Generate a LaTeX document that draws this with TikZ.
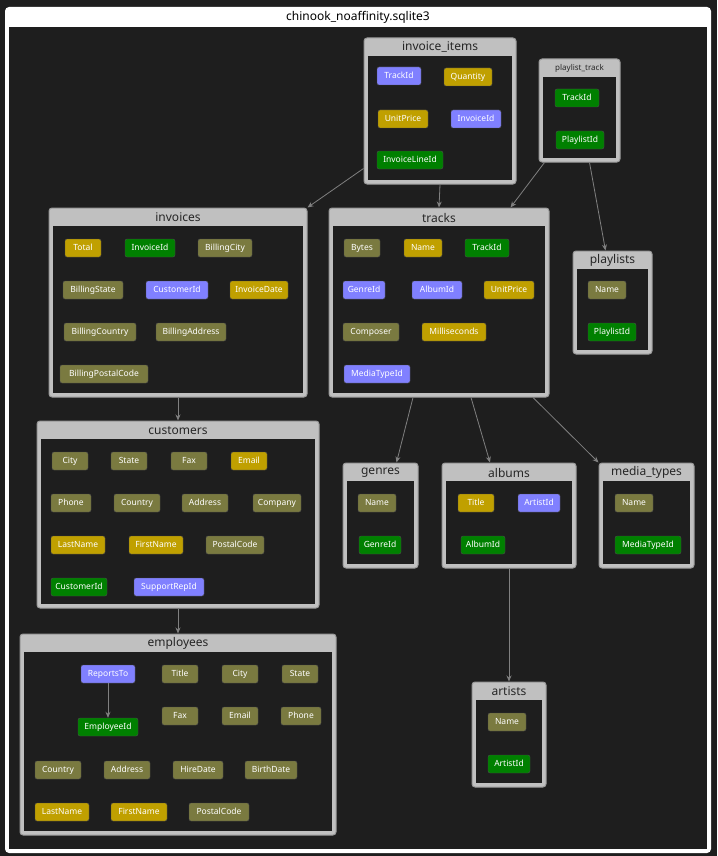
\documentclass[tikz,border=0pt]{standalone}
\usepackage{fontspec}
\setmainfont{Noto Sans}
\usetikzlibrary{arrows.meta}
\definecolor{bgd}{HTML}{1E1E1E}
\definecolor{fgreen}{HTML}{008000}
\definecolor{folive}{HTML}{7A7A40}
\definecolor{fgold}{HTML}{C0A000}
\definecolor{fblue}{HTML}{8080FF}
\definecolor{tgray}{HTML}{C0C0C0}
\tikzset{
  fld/.style={draw=black!40!gray, rounded corners=2pt, minimum height=18pt, inner sep=0pt, text=white, text height=6.5pt, text depth=1.5pt, font=\fontsize{8.5}{9}\selectfont},
  tblbox/.style={draw=gray!80, fill=tgray, rounded corners=3pt, line width=1pt, inner sep=0pt},
  conn/.style={draw=gray, line width=0.8pt, -{Stealth[length=6pt,width=5pt]}},
}
\newcommand{\fl}[6]{\node[fld, fill=#5, minimum width=#4pt] (#1) at (#2,#3) {#6};}
\newcommand{\tbl}[7]{%
  \node[tblbox, minimum width={#4-#2}, minimum height={#5-#3}] (#1) at ({(#2+#4)/2},{(#3+#5)/2}) {};
  \fill[bgd] ({#2+4},{#3+18}) rectangle ({#4-4},{#5-4});
  \node[font=\fontsize{#7}{#7}\selectfont, text=black!85] at ({(#2+#4)/2},{#3+9.5}) {#6};}
\begin{document}
\begin{tikzpicture}[x=1pt,y=-1pt]
\fill[bgd] (0,0) rectangle (717,856);
\fill[white, rounded corners=4pt] (5,7) rectangle (711,853);
\fill[bgd] (9,27) rectangle (707,849);
\node[font=\fontsize{12}{12}\selectfont, text=black] (title) at (358,17) {chinook\_noaffinity.sqlite3};
% tables
\tbl{items}{364}{38}{516}{184}{invoice\_items}{12}
\tbl{ptrack}{539}{59}{620}{162}{playlist\_track}{8}
\tbl{invoices}{49}{208}{307}{397}{invoices}{12}
\tbl{tracks}{329}{208}{549}{397}{tracks}{12}
\tbl{playlists}{573}{251}{652}{354}{playlists}{12}
\tbl{customers}{37}{421}{319}{608}{customers}{12}
\tbl{genres}{343}{463}{418}{568}{genres}{12}
\tbl{albums}{442}{463}{576}{568}{albums}{12}
\tbl{media}{599}{463}{694}{568}{media\_types}{12}
\tbl{employees}{20}{634}{336}{835}{employees}{12}
\tbl{artists}{472}{682}{546}{787}{artists}{12}
% fields
\fl{ii1}{399}{76}{44}{fblue}{TrackId}
\fl{ii2}{468}{77}{48}{fgold}{Quantity}
\fl{ii3}{403}{119}{50}{fgold}{UnitPrice}
\fl{ii4}{476}{119}{50}{fblue}{InvoiceId}
\fl{ii5}{410}{160}{66}{fgreen}{InvoiceLineId}
\fl{pt1}{577}{98}{44}{fgreen}{TrackId}
\fl{pt2}{580}{140}{48}{fgreen}{PlaylistId}
\fl{iv1}{83}{248}{36}{fgold}{Total}
\fl{iv2}{150}{248}{50}{fgreen}{InvoiceId}
\fl{iv3}{225}{248}{54}{folive}{BillingCity}
\fl{iv4}{93}{290}{60}{folive}{BillingState}
\fl{iv5}{177}{290}{62}{fblue}{CustomerId}
\fl{iv6}{259}{290}{58}{fgold}{InvoiceDate}
\fl{iv7}{100}{332}{72}{folive}{BillingCountry}
\fl{iv8}{191}{332}{70}{folive}{BillingAddress}
\fl{iv9}{104}{374}{88}{folive}{BillingPostalCode}
\fl{tr1}{362}{248}{36}{folive}{Bytes}
\fl{tr2}{423}{248}{38}{fgold}{Name}
\fl{tr3}{487}{248}{44}{fgreen}{TrackId}
\fl{tr4}{364}{290}{42}{fblue}{GenreId}
\fl{tr5}{437}{290}{50}{fblue}{AlbumId}
\fl{tr6}{509}{290}{50}{fgold}{UnitPrice}
\fl{tr7}{371}{332}{56}{folive}{Composer}
\fl{tr8}{454}{332}{64}{fgold}{Milliseconds}
\fl{tr9}{377}{374}{66}{fblue}{MediaTypeId}
\fl{pl1}{607}{290}{38}{folive}{Name}
\fl{pl2}{612}{332}{48}{fgreen}{PlaylistId}
\fl{cu1}{70}{461}{36}{folive}{City}
\fl{cu2}{129}{461}{36}{folive}{State}
\fl{cu3}{189}{461}{36}{folive}{Fax}
\fl{cu4}{249}{461}{36}{fgold}{Email}
\fl{cu5}{71}{503}{40}{folive}{Phone}
\fl{cu6}{137}{503}{46}{folive}{Country}
\fl{cu7}{205}{503}{46}{folive}{Address}
\fl{cu8}{277}{503}{48}{folive}{Company}
\fl{cu9}{78}{545}{54}{fgold}{LastName}
\fl{cu10}{156}{545}{54}{fgold}{FirstName}
\fl{cu11}{235}{545}{58}{folive}{PostalCode}
\fl{cu12}{79}{587}{56}{fgreen}{CustomerId}
\fl{cu13}{169}{587}{70}{fblue}{SupportRepId}
\fl{ge1}{377}{503}{38}{folive}{Name}
\fl{ge2}{380}{545}{42}{fgreen}{GenreId}
\fl{al1}{476}{503}{36}{fgold}{Title}
\fl{al2}{539}{503}{42}{fblue}{ArtistId}
\fl{al3}{483}{545}{44}{fgreen}{AlbumId}
\fl{mt1}{634}{503}{38}{folive}{Name}
\fl{mt2}{648}{545}{66}{fgreen}{MediaTypeId}
\fl{em1}{108}{674}{54}{fblue}{ReportsTo}
\fl{em2}{180}{674}{36}{folive}{Title}
\fl{em3}{240}{674}{36}{folive}{City}
\fl{em4}{300}{674}{36}{folive}{State}
\fl{em5}{108}{727}{60}{fgreen}{EmployeeId}
\fl{em6}{180}{716}{36}{folive}{Fax}
\fl{em7}{240}{716}{36}{folive}{Email}
\fl{em8}{301}{716}{40}{folive}{Phone}
\fl{em9}{58}{770}{46}{folive}{Country}
\fl{em10}{127}{770}{46}{folive}{Address}
\fl{em11}{198}{770}{50}{folive}{HireDate}
\fl{em12}{271}{770}{52}{folive}{BirthDate}
\fl{em13}{62}{812}{54}{fgold}{LastName}
\fl{em14}{139}{812}{56}{fgold}{FirstName}
\fl{em15}{219}{812}{60}{folive}{PostalCode}
\fl{ar1}{507}{722}{38}{folive}{Name}
\fl{ar2}{509}{764}{42}{fgreen}{ArtistId}
% connectors
\draw[conn] ([yshift=16pt]items.south west) -- (invoices.north east);
\draw[conn] (items.south) -- (tracks.north);
\draw[conn] ([xshift=6pt]ptrack.south west) -- ([xshift=-39pt]tracks.north east);
\draw[conn] ([xshift=10pt]ptrack.south) -- ([xshift=-7pt]playlists.north);
\draw[conn] (invoices.south) -- (customers.north);
\draw[conn] (customers.south) -- (employees.north);
\draw[conn] ([xshift=-26pt]tracks.south) -- ([xshift=16pt]genres.north);
\draw[conn] ([xshift=32pt]tracks.south) -- ([xshift=-19pt]albums.north);
\draw[conn] ([xshift=94pt]tracks.south) -- (media.north west);
\draw[conn] (albums.south) -- (artists.north);
\draw[conn] (em1) -- (em5);
\end{tikzpicture}
\end{document}
